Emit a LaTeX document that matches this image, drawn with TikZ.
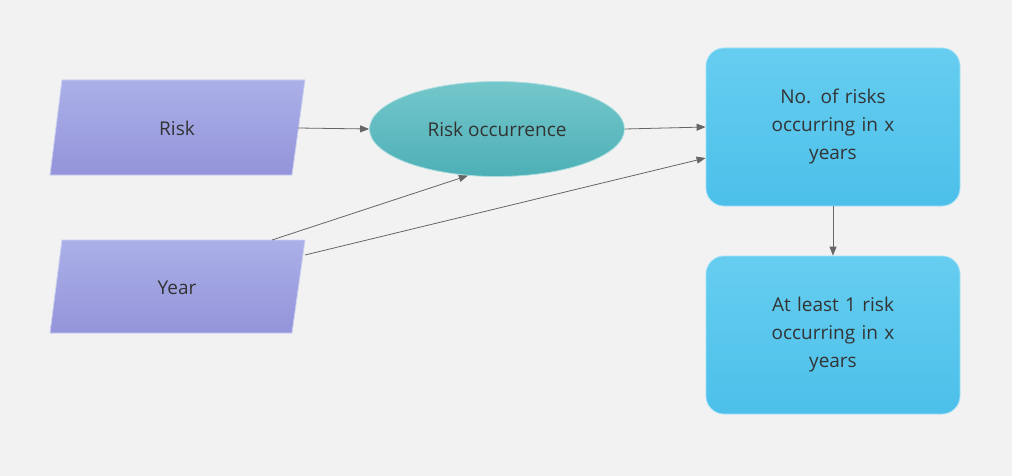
\documentclass[tikz,border=0pt]{standalone}
\usepackage{fontspec}
\setmainfont{Open Sans}
\usetikzlibrary{arrows.meta,shapes.geometric}
\definecolor{bg}{HTML}{F2F2F2}
\definecolor{parT}{HTML}{AAB0E8}
\definecolor{parB}{HTML}{9494DA}
\definecolor{elT}{HTML}{74C7CB}
\definecolor{elB}{HTML}{4DB0B6}
\definecolor{boxT}{HTML}{66CDF0}
\definecolor{boxB}{HTML}{4CC0EA}
\definecolor{txt}{HTML}{333333}
\begin{document}
\begin{tikzpicture}[x=1pt,y=-1pt,
  lbl/.style={font=\fontsize{19}{28}\selectfont,text=txt,align=center},
  par/.style={top color=parT,bottom color=parB,draw=parT!60!white,line width=0.8pt},
  roundbox/.style={rounded corners=18pt,top color=boxT,bottom color=boxB,draw=boxT!60!white,line width=0.8pt,minimum width=254pt,minimum height=158pt,lbl,text width=200pt},
  conn/.style={draw=black!60,line width=0.8pt,-{Triangle[length=9pt,width=7pt]}}]
\fill[bg] (0,0) rectangle (1012,476);
\path[use as bounding box] (0,0) rectangle (1012,476);
% parallelograms
\path[par] (62,80) -- (305,80) -- (292,175) -- (50,175) -- cycle;
\node[lbl] (risk) at (177,128) {Risk};
\path[par] (62,240) -- (305,240) -- (292,333) -- (50,333) -- cycle;
\node[lbl] (year) at (177,288) {Year};
\node[ellipse,minimum width=255pt,minimum height=95pt,top color=elT,bottom color=elB,draw=elT!60!white,line width=0.8pt,lbl] (occ) at (497,129) {Risk occurrence};
\node[roundbox] (n1) at (833,127) {No. of risks\\occurring in x\\years};
\node[roundbox] (n2) at (833,335) {At least 1 risk\\occurring in x\\years};
\coordinate (riskR) at (298,128);
\coordinate (yearT) at (272,240);
\coordinate (yearR) at (305,255);
\draw[conn] (riskR) -- (occ.west);
\draw[conn] (occ.east) -- (n1.west);
\draw[conn] (yearT) -- (occ.-122);
\draw[conn] (yearR) -- ([yshift=-31pt]n1.west);
\draw[conn] (n1.south) -- (n2.north);
\end{tikzpicture}
\end{document}
